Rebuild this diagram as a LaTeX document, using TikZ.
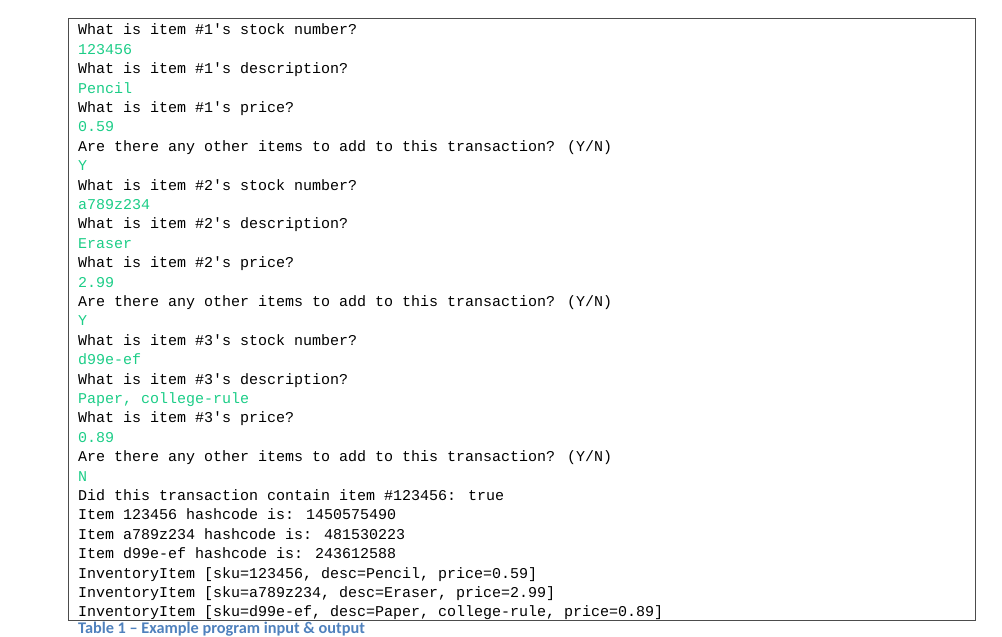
\documentclass[tikz,border=0pt]{standalone}
\usepackage{fontspec}
\setmainfont{Carlito}
\newfontfamily\consolefont{Liberation Mono}
\definecolor{inputgreen}{RGB}{28,205,135}
\definecolor{captionblue}{RGB}{79,129,189}
\tikzset{
  outline/.style={draw=black!70, line width=0.8pt},
  outtxt/.style={anchor=base west, inner sep=0pt, font=\consolefont\fontsize{15}{15}\selectfont, text=black},
  intxt/.style={outtxt, text=inputgreen},
  captxt/.style={anchor=base west, inner sep=0pt, font=\bfseries\fontsize{16.3}{16.3}\selectfont, text=captionblue}
}
\newcommand{\conline}[3]{\node[#1] (l#2) at (78,{637-35-19.4*#2}) {#3};}
\begin{document}
\begin{tikzpicture}[x=1pt,y=1pt]
\useasboundingbox (0,0) rectangle (1002,637);
\draw[outline] (68,{637-18}) rectangle (975,{637-620});
\conline{outtxt}{0}{What is item \#1's stock number?}
\conline{intxt}{1}{123456}
\conline{outtxt}{2}{What is item \#1's description?}
\conline{intxt}{3}{Pencil}
\conline{outtxt}{4}{What is item \#1's price?}
\conline{intxt}{5}{0.59}
\conline{outtxt}{6}{Are there any other items to add to this transaction? (Y/N)}
\conline{intxt}{7}{Y}
\conline{outtxt}{8}{What is item \#2's stock number?}
\conline{intxt}{9}{a789z234}
\conline{outtxt}{10}{What is item \#2's description?}
\conline{intxt}{11}{Eraser}
\conline{outtxt}{12}{What is item \#2's price?}
\conline{intxt}{13}{2.99}
\conline{outtxt}{14}{Are there any other items to add to this transaction? (Y/N)}
\conline{intxt}{15}{Y}
\conline{outtxt}{16}{What is item \#3's stock number?}
\conline{intxt}{17}{d99e-ef}
\conline{outtxt}{18}{What is item \#3's description?}
\conline{intxt}{19}{Paper, college-rule}
\conline{outtxt}{20}{What is item \#3's price?}
\conline{intxt}{21}{0.89}
\conline{outtxt}{22}{Are there any other items to add to this transaction? (Y/N)}
\conline{intxt}{23}{N}
\conline{outtxt}{24}{Did this transaction contain item \#123456: true}
\conline{outtxt}{25}{Item 123456 hashcode is: 1450575490}
\conline{outtxt}{26}{Item a789z234 hashcode is: 481530223}
\conline{outtxt}{27}{Item d99e-ef hashcode is: 243612588}
\conline{outtxt}{28}{InventoryItem [sku=123456, desc=Pencil, price=0.59]}
\conline{outtxt}{29}{InventoryItem [sku=a789z234, desc=Eraser, price=2.99]}
\conline{outtxt}{30}{InventoryItem [sku=d99e-ef, desc=Paper, college-rule, price=0.89]}
\node[captxt] (cap) at (78,{637-634}) {Table 1 – Example program input \& output};
\end{tikzpicture}
\end{document}
